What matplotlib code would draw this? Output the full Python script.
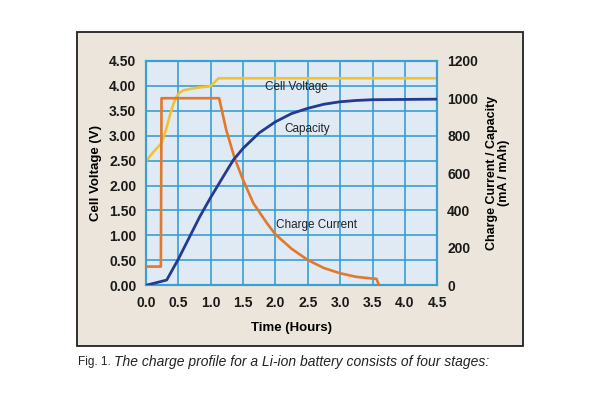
import matplotlib
matplotlib.use("Agg")
import matplotlib.pyplot as plt
from matplotlib.patches import Rectangle
import numpy as np

plt.rcParams['font.family'] = ['Liberation Sans Narrow', 'Liberation Sans', 'DejaVu Sans']

# data
t_voltage = [0, 0.12, 0.24, 0.31, 0.37, 0.42, 0.47, 0.52, 0.58, 0.7, 0.85, 1.0, 1.12, 4.5]
voltage = [2.49, 2.68, 2.85, 3.12, 3.41, 3.62, 3.78, 3.86, 3.91, 3.94, 3.97, 3.99, 4.15, 4.15]

t_current = [0, 0.23, 0.24, 1.13, 1.24, 1.37, 1.5, 1.66, 1.87, 2.0, 2.25, 2.5, 2.75, 3.0, 3.25, 3.5, 3.56, 3.6]
current = [100, 100, 1000, 1000, 830, 679, 563, 438, 331, 272, 195, 135, 92, 64, 45, 36, 35, 0]

t_capacity = [0, 0.32, 0.5, 0.83, 1.0, 1.2, 1.35, 1.5, 1.75, 2.0, 2.25, 2.5, 2.75, 3.0, 3.25, 3.5, 4.5]
capacity = [0, 28, 140, 366, 470, 585, 670, 732, 815, 874, 918, 946, 968, 981, 988, 992, 995]

v_ticks = np.arange(0, 4.51, 0.5)
ma_ticks = np.arange(0, 1201, 200)
hour_ticks = np.arange(0, 4.51, 0.5)

grid_col = '#3a9fd2'
bg_col = '#dfeaf5'
frame_col = '#ece5db'

fig = plt.figure(figsize=(6, 4), dpi=100)
fig.patch.set_facecolor('white')

# beige frame behind the chart
fig.patches.append(Rectangle((0.128, 0.135), 0.743, 0.785, transform=fig.transFigure,
                             facecolor=frame_col, edgecolor='#222222', linewidth=1.3, zorder=-5))

ax = fig.add_axes([0.2433, 0.2868, 0.4855, 0.5612])
ax.set_facecolor(bg_col)
ax2 = ax.twinx()

ax.plot(t_voltage, voltage, color='#f3c22f', linewidth=1.9, zorder=3)
ax2.plot(t_current, current, color='#e2782c', linewidth=1.9, zorder=3)
ax2.plot(t_capacity, capacity, color='#223b90', linewidth=2.0, zorder=3)

ax.set_xlim(0, 4.5)
ax.set_ylim(0, 4.5)
ax2.set_ylim(0, 1200)

ax.set_xticks(hour_ticks)
ax.set_xticklabels([f'{v:.1f}' for v in hour_ticks])
ax.set_yticks(v_ticks)
ax.set_yticklabels([f'{v:.2f}' for v in v_ticks])
ax2.set_yticks(ma_ticks)
ax2.set_yticklabels([str(v) for v in ma_ticks])

ax.grid(True, color=grid_col, linewidth=1.2)
ax.set_axisbelow(True)
for a in (ax, ax2):
    for s in a.spines.values():
        s.set_color(grid_col)
        s.set_linewidth(1.5)
    a.tick_params(length=0, labelsize=10, colors='#1a1a1a')
for lab in ax.get_xticklabels() + ax.get_yticklabels() + ax2.get_yticklabels():
    lab.set_fontweight('bold')
ax.tick_params(axis='y', pad=7)
ax.tick_params(axis='x', pad=8)
ax2.tick_params(axis='y', pad=7)

ax.set_xlabel('Time (Hours)', fontsize=9.5, fontweight='bold', labelpad=8)
ax.set_ylabel('Cell Voltage (V)', fontsize=9.5, fontweight='bold', labelpad=5)
ax2.set_ylabel('Charge Current / Capacity\n(mA / mAh)', fontsize=9, fontweight='bold',
               labelpad=6, linespacing=0.95)

ax.text(2.32, 3.97, 'Cell Voltage', fontsize=8.5, ha='center', va='center', color='#222222')
ax.text(2.49, 3.13, 'Capacity', fontsize=8.5, ha='center', va='center', color='#222222')
ax.text(2.64, 1.21, 'Charge Current', fontsize=8.5, ha='center', va='center', color='#222222')

fig.text(0.13, 0.095, 'Fig. 1.', fontsize=8.5, color='#222222', va='center')
fig.text(0.19, 0.095, 'The charge profile for a Li-ion battery consists of four stages:',
         fontsize=10, style='italic', color='#222222', va='center')

fig.savefig('out.png', dpi=100)
